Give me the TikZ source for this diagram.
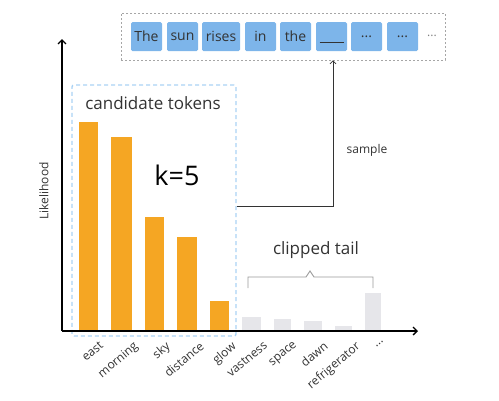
\documentclass[tikz,border=0pt]{standalone}
\usepackage{fontspec}
\setmainfont{Open Sans}
\usetikzlibrary{arrows.meta,positioning}
\definecolor{barorange}{HTML}{F5A623}
\definecolor{bargrey}{HTML}{E6E6EA}
\definecolor{tokblue}{HTML}{7DB5EA}
\definecolor{candblue}{HTML}{AAD3F5}
\definecolor{txtgrey}{HTML}{333333}
\tikzset{
  orangebar/.style={fill=barorange},
  greybar/.style={fill=bargrey},
  tokbox/.style={fill=tokblue, rounded corners=1.5pt, minimum height=29pt, inner sep=0pt, font=\fontsize{14}{16}\selectfont, text=txtgrey},
  xlab/.style={anchor=north east, rotate=40, font=\fontsize{12}{14}\selectfont, inner sep=1pt, text=txtgrey},
  axisline/.style={line width=1.3pt, -{Straight Barb[length=4pt,width=8pt]}},
}
\begin{document}
\begin{tikzpicture}[x=1pt,y=-1pt]
\useasboundingbox (0,0) rectangle (499,400);
% sequence box
\node[draw=gray!70, dashed, dash pattern=on 2pt off 2pt, line width=0.6pt, minimum width=324pt, minimum height=47pt, inner sep=0pt] (seq) at (283,36.5) {};
\node[tokbox, minimum width=31pt] (t1) at (146.5,36.5) {The};
\node[tokbox, minimum width=31pt] (t2) at (182.5,36.5) {sun};
\node[tokbox, minimum width=38pt] (t3) at (221,36.5) {rises};
\node[tokbox, minimum width=31pt] (t4) at (260.5,36.5) {in};
\node[tokbox, minimum width=31pt] (t5) at (295.5,36.5) {the};
\node[tokbox, minimum width=31pt] (t6) at (331.5,36.5) {\underline{\hspace{24pt}\vphantom{Th}}};
\node[tokbox, minimum width=31pt] (t7) at (366.5,36.5) {...};
\node[tokbox, minimum width=31pt] (t8) at (402.5,36.5) {...};
\node[font=\fontsize{12}{14}\selectfont, text=gray] (t9) at (432,36) {...};
% candidate box
\node[draw=candblue, dashed, dash pattern=on 4pt off 3pt, line width=1.4pt, rounded corners=2pt, minimum width=164pt, minimum height=251pt, inner sep=0pt] (cand) at (154,210.5) {};
\node[font=\fontsize{17}{20}\selectfont, text=txtgrey] (candlab) at (153,103) {candidate tokens};
\node[font=\fontsize{27}{32}\selectfont, text=black] (k) at (177,175) {k=5};
% bars
\fill[orangebar] (79,122) rectangle (98,331);
\fill[orangebar] (111,137) rectangle (132,331);
\fill[orangebar] (145,217) rectangle (164,331);
\fill[orangebar] (177,237) rectangle (197,331);
\fill[orangebar] (210,301) rectangle (229,331);
\fill[greybar] (242,317) rectangle (261,331);
\fill[greybar] (274,319) rectangle (291,331);
\fill[greybar] (304,321) rectangle (322,331);
\fill[greybar] (335,326) rectangle (352,331);
\fill[greybar] (365,293) rectangle (381,331);
% axes
\coordinate (origin) at (62,331);
\coordinate (ytip) at (62,39);
\coordinate (xtip) at (418,331);
\draw[axisline] (origin) -- (ytip);
\draw[axisline] (origin) -- (xtip);
\node[rotate=90, font=\fontsize{12}{14}\selectfont, text=txtgrey] (ylab) at (44,191) {Likelihood};
% x labels
\node[xlab] (l1) at (99,339) {east};
\node[xlab] (l2) at (133,339) {morning};
\node[xlab] (l3) at (165,339) {sky};
\node[xlab] (l4) at (199,339) {distance};
\node[xlab] (l5) at (231,339) {glow};
\node[xlab] (l6) at (263,339) {vastness};
\node[xlab] (l7) at (293,339) {space};
\node[xlab] (l8) at (323,339) {dawn};
\node[xlab] (l9) at (355,339) {refrigerator};
\node[xlab] (l10) at (383,339) {...};
% clipped tail bracket
\draw[gray!80, line width=0.9pt] (248,288) -- (248,277) -- (306,277) -- (310,271) -- (314,277) -- (373,277) -- (373,288);
\node[font=\fontsize{17}{20}\selectfont, text=txtgrey] (cliplab) at (316,250) {clipped tail};
% sample arrow
\draw[line width=0.8pt, black!80, -{Straight Barb[length=3pt,width=6pt]}] ([yshift=4pt]cand.east) -| ([xshift=50pt]seq.south);
\node[font=\fontsize{12}{14}\selectfont, text=txtgrey] (samplelab) at (367,150) {sample};
\end{tikzpicture}
\end{document}
